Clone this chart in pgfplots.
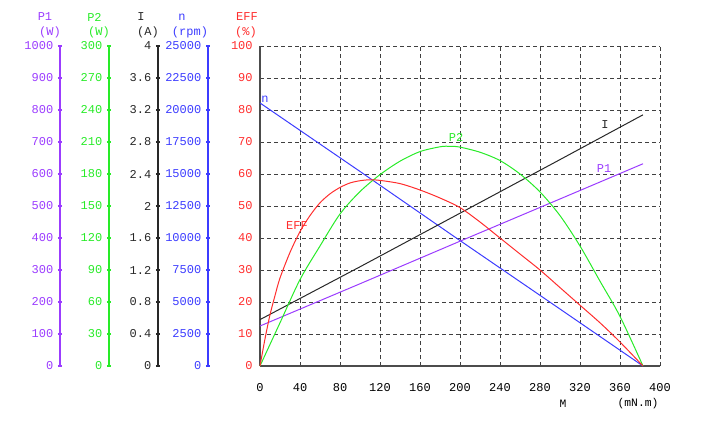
\documentclass[border=0pt]{standalone}
\usepackage{fontspec}
\setmainfont{Liberation Mono}
\usepackage{pgfplots}
\pgfplotsset{compat=1.18}
\definecolor{cP1}{RGB}{155,60,255}
\definecolor{cP2}{RGB}{40,235,40}
\definecolor{cI}{RGB}{40,40,40}
\definecolor{cN}{RGB}{60,60,255}
\definecolor{cE}{RGB}{255,45,45}
\pgfplotsset{
  /pgf/number format/assume math mode=true,
  /pgf/number format/1000 sep={},
  sideaxis/.style={
    scale only axis, width=1pt, height=240pt,
    xmin=0, xmax=1, hide x axis, axis y line*=left, clip=false,
    ymin=0, tick align=center, major tick length=3pt,
    tick label style={font=\fontsize{9}{10}\selectfont},
    yticklabel style={xshift=0pt},
  },
}
\begin{document}
\begin{tikzpicture}
\path[use as bounding box] (-195pt,-47.25pt) rectangle (339.75pt,274.5pt);
% P1 axis
\begin{axis}[sideaxis, at={(-150pt,0pt)}, anchor=south west,
  ymax=1000, ytick distance=100,
  y axis line style={cP1, line width=0.9pt}, ytick style={cP1, line width=0.8pt},
  yticklabel style={cP1}]
  \node[cP1, font=\fontsize{9}{10}\selectfont] at (axis description cs:0,1) [xshift=-11.25pt, yshift=21.75pt] {P1};
  \node[cP1, font=\fontsize{9}{10}\selectfont] at (axis description cs:0,1) [xshift=-7.5pt, yshift=10.5pt] {(W)};
\end{axis}
% P2 axis
\begin{axis}[sideaxis, at={(-113.25pt,0pt)}, anchor=south west,
  ymax=300, ytick distance=30,
  y axis line style={cP2, line width=0.9pt}, ytick style={cP2, line width=0.8pt},
  yticklabel style={cP2}]
  \node[cP2, font=\fontsize{9}{10}\selectfont] at (axis description cs:0,1) [xshift=-10.9pt, yshift=21.75pt] {P2};
  \node[cP2, font=\fontsize{9}{10}\selectfont] at (axis description cs:0,1) [xshift=-7.5pt, yshift=10.5pt] {(W)};
\end{axis}
% I axis
\begin{axis}[sideaxis, at={(-76.5pt,0pt)}, anchor=south west,
  ymax=4, ytick={0,0.4,...,4.01},
  yticklabel style={/pgf/number format/fixed},
  y axis line style={cI, line width=0.9pt}, ytick style={cI, line width=0.8pt},
  yticklabel style={cI}]
  \node[cI, font=\fontsize{9}{10}\selectfont] at (axis description cs:0,1) [xshift=-12.75pt, yshift=21.75pt] {I};
  \node[cI, font=\fontsize{9}{10}\selectfont] at (axis description cs:0,1) [xshift=-7.5pt, yshift=10.5pt] {(A)};
\end{axis}
% n axis
\begin{axis}[sideaxis, at={(-39pt,0pt)}, anchor=south west,
  ymax=25000, ytick distance=2500,
  scaled y ticks=false,
  y axis line style={cN, line width=0.9pt}, ytick style={cN, line width=0.8pt},
  yticklabel style={cN}]
  \node[cN, font=\fontsize{9}{10}\selectfont] at (axis description cs:0,1) [xshift=-19.5pt, yshift=21.75pt] {n};
  \node[cN, font=\fontsize{9}{10}\selectfont] at (axis description cs:0,1) [xshift=-13.5pt, yshift=10.5pt] {(rpm)};
\end{axis}
% main axis
\begin{axis}[
  at={(0pt,0pt)}, anchor=south west,
  scale only axis, width=300pt, height=240pt,
  xmin=0, xmax=400, ymin=0, ymax=100,
  xtick distance=40, ytick distance=10,
  axis x line*=bottom, axis y line*=left,
  axis line style={black!70, line width=1.1pt},
  major tick length=0pt,
  grid=major,
  major grid style={black!75, line width=0.75pt, dash pattern=on 3pt off 2.25pt},
  tick label style={font=\fontsize{9}{10}\selectfont},
  yticklabel style={cE, xshift=-2pt},
  xticklabel style={yshift=-9.5pt},
  clip=false,
]
  \node[cE, font=\fontsize{9}{10}\selectfont] at (axis description cs:0,1) [xshift=-9.75pt, yshift=21.75pt] {EFF};
  \node[cE, font=\fontsize{9}{10}\selectfont] at (axis description cs:0,1) [xshift=-10.5pt, yshift=10.5pt] {(\%)};
  \node[font=\fontsize{8.5}{10}\selectfont] at (axis cs:303,0) [yshift=-28.5pt] {M};
  \node[font=\fontsize{8.5}{10}\selectfont] at (axis cs:378,0) [yshift=-28.5pt] {(mN.m)};

  % n in rpm
  \addplot[cN, line width=0.75pt, y filter/.expression={y/250}] coordinates {
    (0,20550) (100,15200) (200,9800) (300,4450) (383,0)};
  % I in A
  \addplot[cI, line width=0.75pt, y filter/.expression={y*25}] coordinates {
    (0,0.58) (100,1.24) (200,1.91) (300,2.58) (383,3.14)};
  % P1 in W
  \addplot[cP1, line width=0.75pt, y filter/.expression={y/10}] coordinates {
    (0,125) (100,257) (200,390) (300,522) (383,632)};
  % P2 in W
  \addplot[cP2, line width=0.75pt, smooth, y filter/.expression={y/3}] coordinates {
    (0,0) (20,40.5) (40,81) (60,112.5) (80,142.5) (100,163.5) (120,179.4)
    (140,192) (160,201) (180,205.5) (190,206) (200,205.2) (220,200.4)
    (240,192.6) (260,180) (280,163.2) (300,141) (320,112.5) (340,79.5)
    (360,46.5) (383,0)};
  % EFF in %
  \addplot[cE, line width=0.75pt, smooth] coordinates {
    (0,0) (5,8.5) (10,16) (15,22) (20,27.5) (30,35.5) (40,42) (50,47)
    (60,51) (70,53.8) (80,55.8) (90,57.2) (100,57.9) (110,58.2) (120,58)
    (140,57) (160,55) (180,52.5) (200,49.5) (220,45) (240,40) (260,35)
    (280,30) (300,24.5) (320,19) (340,13.5) (360,7.5) (383,0)};

  \node[cN, font=\fontsize{9}{10}\selectfont] at (axis cs:5,83.5) {n};
  \node[cE, font=\fontsize{9}{10}\selectfont] at (axis cs:37,44) {EFF};
  \node[cP2, font=\fontsize{9}{10}\selectfont] at (axis cs:196,71.5) {P2};
  \node[cI, font=\fontsize{9}{10}\selectfont] at (axis cs:345,75.6) {I};
  \node[cP1, font=\fontsize{9}{10}\selectfont] at (axis cs:344,61.7) {P1};
\end{axis}
\end{tikzpicture}
\end{document}
